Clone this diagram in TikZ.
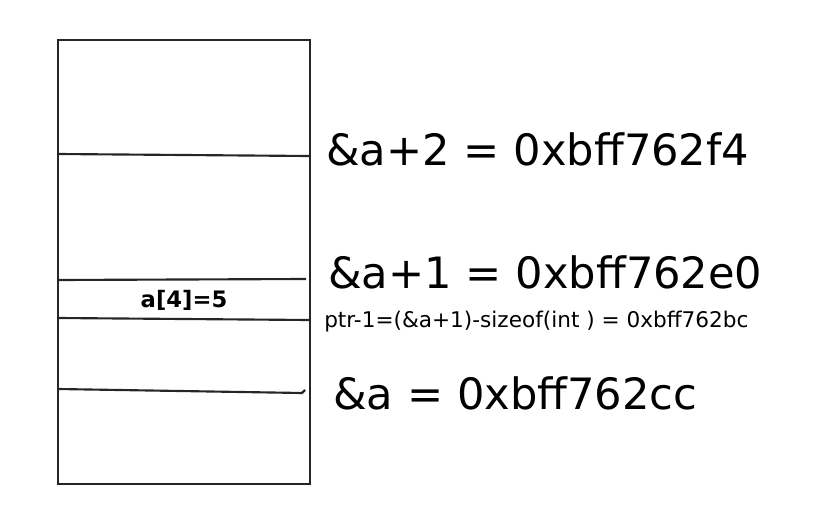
\documentclass[tikz,border=0pt]{standalone}
\usepackage{fontspec}
\setmainfont{DejaVu Sans}
\begin{document}
\begin{tikzpicture}[x=0.75pt,y=-0.75pt,
  cell/.style={draw=black!85,line width=1.6pt},
  big/.style={anchor=base west,inner sep=0pt,font=\fontsize{32.4}{36}\selectfont},
  small/.style={anchor=base west,inner sep=0pt,font=\fontsize{16.2}{18}\selectfont},
  val/.style={anchor=base,inner sep=0pt,font=\bfseries\fontsize{17}{19}\selectfont}]
\useasboundingbox (0,0) rectangle (828,510);
\coordinate (tl) at (58,40);
\coordinate (br) at (310,484);
\draw[cell] (tl) rectangle (br);
\coordinate (l1a) at (58,154); \coordinate (l1b) at (309,156);
\coordinate (l2a) at (58,280); \coordinate (l2b) at (306,279);
\coordinate (l3a) at (58,318); \coordinate (l3b) at (309,320);
\coordinate (l4a) at (58,389); \coordinate (l4b) at (302,393); \coordinate (l4c) at (305,390);
\draw[cell] (l1a) -- (l1b);
\draw[cell] (l2a) -- (l2b);
\draw[cell] (l3a) -- (l3b);
\draw[cell] (l4a) -- (l4b) -- (l4c);
\node[val] (v) at (184,307) {a[4]=5};
\node[big] (t1) at (326,165) {\&a+2 = 0xbff762f4};
\node[big] (t2) at (328,288) {\&a+1 = 0xbff762e0};
\node[small] (t3) at (324,327) {ptr-1=(\&a+1)-sizeof(int ) = 0xbff762bc};
\node[big] (t4) at (333,409) {\&a = 0xbff762cc};
\end{tikzpicture}
\end{document}
